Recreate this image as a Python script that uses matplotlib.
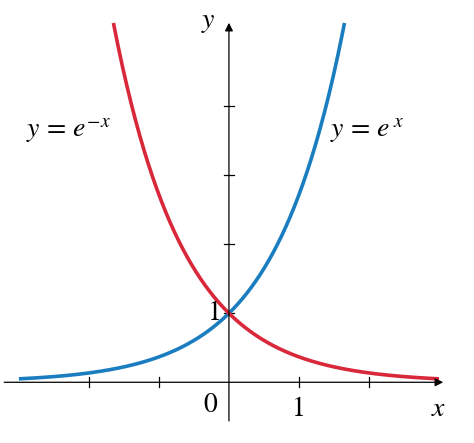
import numpy as np
import matplotlib
matplotlib.use("Agg")
import matplotlib.pyplot as plt

plt.rcParams['mathtext.fontset'] = 'stix'
plt.rcParams['font.family'] = ['STIXGeneral', 'DejaVu Serif']

x_blue = np.linspace(-3.0, 1.65, 300)
x_red = np.linspace(-1.65, 3.0, 300)
x_ticks = [-2, -1, 1, 2]
y_ticks = [1, 2, 3, 4]

fig = plt.figure(figsize=(4.74, 4.43), dpi=100)
ax = fig.add_axes([0, 0, 1, 1])
ax.set_xlim(-3.27, 3.5)
ax.set_ylim(-0.88, 5.54)
ax.axis('off')

ax.plot(x_blue, np.exp(x_blue), color='#1a7dc0', lw=2.6, solid_capstyle='butt', zorder=3)
ax.plot(x_red, np.exp(-x_red), color='#d8283a', lw=2.6, solid_capstyle='butt', zorder=3)

ax.annotate('', xy=(3.1, 0), xytext=(-3.25, 0),
            arrowprops=dict(arrowstyle='-|>', color='black', lw=0.9, mutation_scale=12))
ax.annotate('', xy=(0, 5.25), xytext=(0, -0.6),
            arrowprops=dict(arrowstyle='-|>', color='black', lw=0.9, mutation_scale=12))
for t in x_ticks:
    ax.plot([t, t], [-0.07, 0.07], color='black', lw=0.9)
for t in y_ticks:
    ax.plot([-0.07, 0.07], [t, t], color='black', lw=0.9)

fs = 20
ax.text(-0.27, -0.33, '0', fontsize=fs, ha='center', va='center')
ax.text(1.0, -0.4, '1', fontsize=fs, ha='center', va='center')
ax.text(-0.2, 1.0, '1', fontsize=fs, ha='center', va='center')
ax.text(3.0, -0.4, r'$x$', fontsize=fs, ha='center', va='center')
ax.text(-0.3, 5.22, r'$y$', fontsize=fs, ha='center', va='center')
ax.text(-2.9, 3.63, r'$y\,=\,e^{-x}$', fontsize=fs, ha='left', va='center')
ax.text(1.45, 3.63, r'$y\,=\,e^{\,x}$', fontsize=fs, ha='left', va='center')

fig.savefig('out.png', dpi=100)
